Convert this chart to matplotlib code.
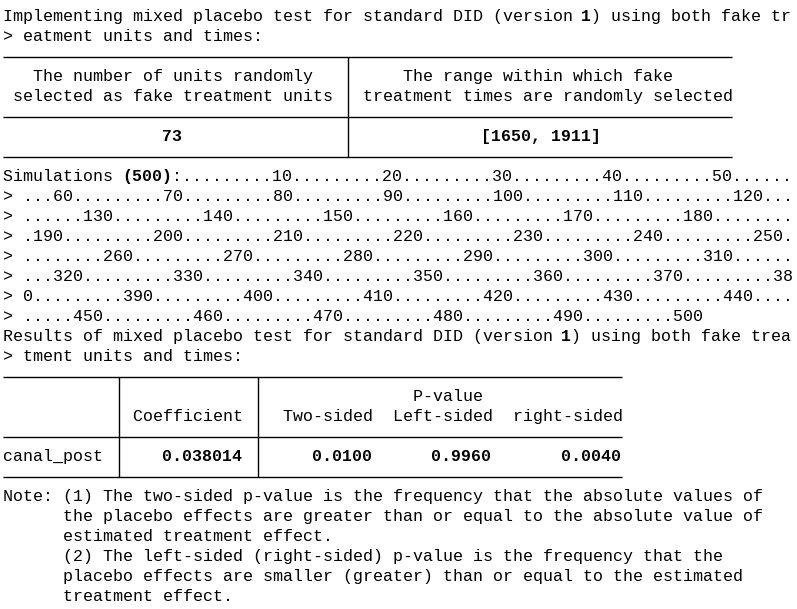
import matplotlib.pyplot as plt

# --- content (Stata results window) ---
title_pre = "Implementing mixed placebo test for standard DID (version "
results_pre = "Results of mixed placebo test for standard DID (version "
version = "1"
n_units = 73
time_range = (1650, 1911)
n_sims = 500

head1 = ["The number of units randomly", "selected as fake treatment units"]
head2 = ["The range within which fake", "treatment times are randomly selected"]

sim_lines = [
    ":.........10.........20.........30.........40.........50......",
    "> ...60.........70.........80.........90.........100.........110.........120...",
    "> ......130.........140.........150.........160.........170.........180........",
    "> .190.........200.........210.........220.........230.........240.........250.",
    "> ........260.........270.........280.........290.........300.........310......",
    "> ...320.........330.........340.........350.........360.........370.........38",
    "> 0.........390.........400.........410.........420.........430.........440....",
    "> .....450.........460.........470.........480.........490.........500",
]

var_name = "canal_post"
coef = 0.038014
pvals = [0.0100, 0.9960, 0.0040]
pcols = ["Two-sided", "Left-sided", "right-sided"]

notes = [
    "Note: (1) The two-sided p-value is the frequency that the absolute values of",
    "      the placebo effects are greater than or equal to the absolute value of",
    "      estimated treatment effect.",
    "      (2) The left-sided (right-sided) p-value is the frequency that the",
    "      placebo effects are smaller (greater) than or equal to the estimated",
    "      treatment effect.",
]

# --- layout (pixels) ---
W, H, DPI = 797, 609, 100
CW = 9.96
RH = 20
X0 = 3.0
LX0 = 4.5
BASE0 = 21.3
LINE0 = 16.7
FS = 11.95
FONT = "Liberation Mono"

fig = plt.figure(figsize=(W / DPI, H / DPI), dpi=DPI)
ax = fig.add_axes([0, 0, 1, 1])
ax.set_xlim(0, W)
ax.set_ylim(H, 0)
ax.axis("off")


def put(row, segs):
    col = 0
    for txt, bold in segs:
        ax.text(X0 + col * CW, BASE0 + row * RH, txt, family=FONT, fontsize=FS,
                fontweight="bold" if bold else "normal", color="black",
                va="baseline", ha="left")
        col += len(txt)


def hline(row, c0, c1):
    y = LINE0 + row * RH
    ax.plot([LX0 + c0 * CW - 1.2, LX0 + c1 * CW], [y, y], color="black", lw=1.0,
            solid_capstyle="butt")


def vline(col, r0, r1):
    x = LX0 + (col + 0.5) * CW
    ax.plot([x, x], [LINE0 + r0 * RH, LINE0 + r1 * RH], color="black", lw=1.0,
            solid_capstyle="butt")


# heading
put(0, [(title_pre, False), (version, True), (") using both fake tr", False)])
put(1, [("> eatment units and times:", False)])

# first table
hline(2, 0, 73)
put(3, [(" " * 3 + head1[0] + " " * 9 + head2[0], False)])
put(4, [(" " + head1[1] + " " * 3 + head2[1], False)])
hline(5, 0, 73)
rng = "[%d, %d]" % time_range
put(6, [(" " * 16, False), (str(n_units), True), (" " * 30, False), (rng, True)])
hline(7, 0, 73)
vline(34, 2, 7)

# simulation dots
put(8, [("Simulations ", False), ("(%d)" % n_sims, True), (sim_lines[0], False)])
for i, s in enumerate(sim_lines[1:]):
    put(9 + i, [(s, False)])

put(16, [(results_pre, False), (version, True), (") using both fake trea", False)])
put(17, [("> tment units and times:", False)])

# second table
hline(18, 0, 62)
put(19, [(" " * 41 + "P-value", False)])
put(20, [(" " * 13 + "Coefficient" + " " * 4 + pcols[0] + "  " + pcols[1] + "  " + pcols[2], False)])
hline(21, 0, 62)
put(22, [(var_name + " " * 6, False), ("%.6f" % coef, True), (" " * 7, False),
         ("%.4f" % pvals[0], True), (" " * 6, False), ("%.4f" % pvals[1], True),
         (" " * 7, False), ("%.4f" % pvals[2], True)])
hline(23, 0, 62)
vline(11, 18, 23)
vline(25, 18, 23)

# notes
for i, s in enumerate(notes):
    put(24 + i, [(s, False)])

fig.savefig("out.png", dpi=DPI, facecolor="white")
plt.close(fig)
